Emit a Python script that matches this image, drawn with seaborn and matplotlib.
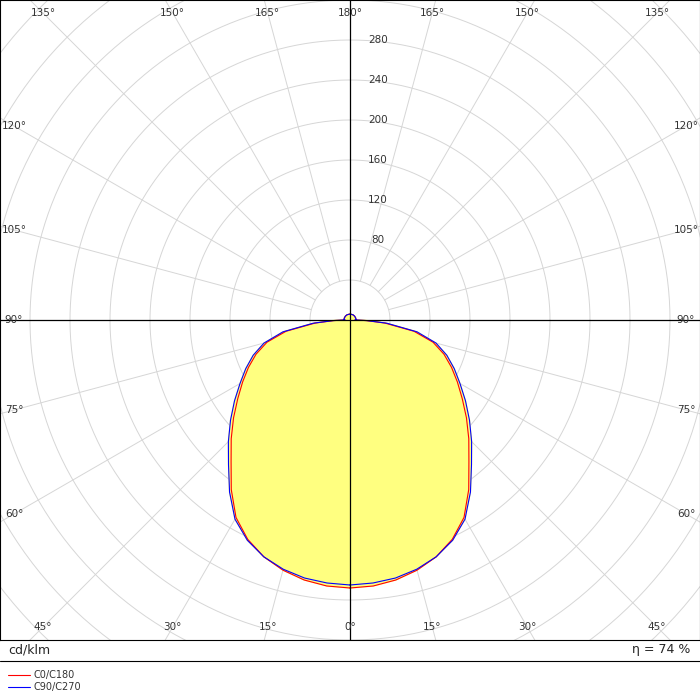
import numpy as np
import seaborn as sns
import matplotlib.pyplot as plt

sns.set_style("white")
plt.rcParams['font.family'] = ['DejaVu Sans']

# luminous intensity in cd/klm vs gamma angle
gamma = [0, 5, 10, 15, 20, 25, 30, 35, 40, 45, 50, 55, 60, 65, 70, 75, 80, 85, 88, 90,
         95, 110, 130, 150, 180]
c0_c180 = [268, 267, 264, 259, 252, 242, 228, 207, 185, 168, 152, 137, 124, 112, 100, 86,
           65, 35, 16, 5, 6, 6, 6, 6, 6]
c90_c270 = [265, 264, 262, 258, 252, 243, 230, 210, 189, 172, 156, 141, 127, 115, 103, 89,
            68, 37, 17, 5, 6, 6, 6, 6, 6]
ring_values = [40, 80, 120, 160, 200, 240, 280, 320, 360, 400, 440, 480]
ring_labels = [80, 120, 160, 200, 240, 280]
spoke_angles = [0, 15, 30, 45, 60, 75, 90, 105, 120, 135, 150, 165, 180]
eta = 74

fig = plt.figure(figsize=(7, 7), dpi=100)
ax = fig.add_axes([0, 60 / 700, 1, 640 / 700])
ax.set_xlim(-350, 350)
ax.set_ylim(-320, 320)
ax.set_xticks([])
ax.set_yticks([])
for s in ax.spines.values():
    s.set_color("black")
    s.set_linewidth(0.8)

t = np.linspace(0, 2 * np.pi, 400)
for r in ring_values:
    ax.plot(r * np.cos(t), r * np.sin(t), color="#d6d6d6", lw=0.7, zorder=1)
for a in spoke_angles:
    rad = np.radians(a)
    for sgn in (1, -1):
        ax.plot([sgn * 40 * np.sin(rad), sgn * 600 * np.sin(rad)],
                [-40 * np.cos(rad), -600 * np.cos(rad)], color="#d6d6d6", lw=0.7, zorder=1)
ax.axhline(0, color="black", lw=0.9, zorder=3)
ax.axvline(0, color="black", lw=0.9, zorder=3)

# edge labels
for a in spoke_angles:
    rad = np.radians(a)
    for sgn in ((1, -1) if 0 < a < 180 else (1,)):
        dx, dy = sgn * np.sin(rad), -np.cos(rad)
        k = min(336 / abs(dx) if abs(dx) > 1e-9 else 1e9, 307 / abs(dy) if abs(dy) > 1e-9 else 1e9)
        ax.text(k * dx, k * dy, f"{a}°", ha="center", va="center", fontsize=7.5, color="#333333", zorder=4)
for r in ring_labels:
    ax.text(28, r, str(r), ha="center", va="center", fontsize=7.5, color="#333333", zorder=4)

def curve(vals):
    g = np.radians(np.array(gamma, dtype=float))
    v = np.array(vals, dtype=float)
    th = np.concatenate([g, -g[::-1]])
    rr = np.concatenate([v, v[::-1]])
    return rr * np.sin(th), -rr * np.cos(th)

x0, y0 = curve(c0_c180)
x9, y9 = curve(c90_c270)
ax.fill(x9, y9, color="#ffff80", zorder=2)
ax.fill(x0, y0, color="#ffff80", zorder=2)
ax.plot(x0, y0, color="red", lw=0.8, zorder=2.5)
ax.plot(x9, y9, color="blue", lw=0.8, zorder=2.5)

fig.text(8 / 700, 1 - 650 / 700, "cd/klm", fontsize=9, va="center")
fig.text(690 / 700, 1 - 650 / 700, f"η = {eta} %", fontsize=9, va="center", ha="right")
fig.add_artist(plt.Line2D([0, 1], [1 - 661 / 700] * 2, color="black", lw=0.8))
for i, (lab, col) in enumerate([("C0/C180", "red"), ("C90/C270", "blue")]):
    yy = 1 - (675 + 12 * i) / 700
    fig.add_artist(plt.Line2D([8 / 700, 30 / 700], [yy, yy], color=col, lw=0.8))
    fig.text(33 / 700, yy, lab, fontsize=7, va="center", color="#333333")

fig.savefig("out.png", dpi=100)
